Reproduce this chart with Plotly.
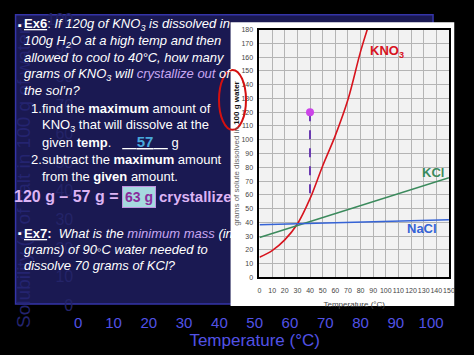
import plotly.graph_objects as go

W, H = 474, 355
FONT = "Liberation Sans, Arial, sans-serif"

# ---- data ----
kno3_t = [0, 10, 20, 30, 40, 50, 60, 70, 80, 86]
kno3_v = [14.7, 19.5, 27.3, 38.8, 57.2, 81, 103, 129, 164, 182]
kcl_t = [0, 50, 100, 150]
kcl_v = [29, 43.5, 58, 72.5]
nacl_t = [0, 50, 100, 150]
nacl_v = [38.3, 39.5, 40.7, 41.9]
point_t = [40]
point_v = [120]
drop_t = [40, 40]
drop_v = [120, 60]
inner_xticks = list(range(0, 151, 10))
inner_yticks = list(range(0, 181, 10))
bg_xticks = list(range(0, 101, 10))
bg_yticks = list(range(0, 101, 10))


def px(x):
    return x / W


def py(y):
    return 1 - y / H


fig = go.Figure()

fig.add_trace(go.Scatter(x=kno3_t, y=kno3_v, mode="lines", line=dict(color="#d7141e", width=1.6, shape="spline"),
                         hoverinfo="skip"))
fig.add_trace(go.Scatter(x=kcl_t, y=kcl_v, mode="lines", line=dict(color="#3b8a5c", width=1.5), hoverinfo="skip"))
fig.add_trace(go.Scatter(x=nacl_t, y=nacl_v, mode="lines", line=dict(color="#3563d6", width=1.6), hoverinfo="skip"))
fig.add_trace(go.Scatter(x=drop_t, y=drop_v, mode="lines", line=dict(color="#6a3ab0", width=2, dash="dash"),
                         hoverinfo="skip"))
fig.add_trace(go.Scatter(x=point_t, y=point_v, mode="markers", marker=dict(color="#cc44e8", size=8),
                         hoverinfo="skip"))
# invisible trace for the background (slide) axes
fig.add_trace(go.Scatter(x=[None], y=[None], xaxis="x2", yaxis="y2", showlegend=False, hoverinfo="skip"))

X0, X1, Y0, Y1 = 265, 461.5, 283, 22.7

fig.update_layout(
    width=W, height=H, margin=dict(l=0, r=0, t=0, b=0),
    paper_bgcolor="#000000", plot_bgcolor="rgba(0,0,0,0)", showlegend=False,
    font=dict(family=FONT),
    xaxis=dict(domain=[px(X0), px(X1)], range=[0, 150], tickvals=inner_xticks, tickangle=0,
               showgrid=True, gridcolor="#b4b4b4", gridwidth=1, zeroline=False,
               showline=True, linecolor="#000000", linewidth=2, mirror=True,
               ticks="", ticklabelstandoff=5,
               tickfont=dict(size=7, color="#444444", family=FONT),
               title=dict(text="Temperature (°C)", font=dict(size=8, color="#444444", family=FONT), standoff=9)),
    yaxis=dict(domain=[py(Y0), py(Y1)], range=[0, 180], tickvals=inner_yticks,
               showgrid=True, gridcolor="#b4b4b4", gridwidth=1, zeroline=False,
               showline=True, linecolor="#000000", linewidth=2, mirror=True,
               ticks="", ticklabelstandoff=3,
               tickfont=dict(size=7, color="#444444", family=FONT),
               title=dict(text="<span style='color:#666666'>grams of solute dissolved in</span> <b>100 g water</b>",
                          font=dict(size=8, color="#111111", family=FONT), standoff=0)),
    xaxis2=dict(domain=[px(77), px(443)], range=[0, 100], tickvals=bg_xticks, anchor="y2",
                showgrid=False, zeroline=False, showline=False, ticks="", ticklabelstandoff=7,
                tickfont=dict(size=15, color="#5252e6", family=FONT),
                title=dict(text="Temperature (°C)", font=dict(size=17, color="#5252e6", family=FONT), standoff=4)),
    yaxis2=dict(domain=[py(312), py(12)], range=[0, 100], tickvals=bg_yticks, anchor="x2",
                showgrid=False, zeroline=False, showline=False, ticks="", ticklabelstandoff=4,
                tickfont=dict(size=16, color="#242468", family=FONT)),
)

shapes = [
    # slide background panel
    dict(type="rect", xref="paper", yref="paper", x0=px(12), x1=px(445), y0=py(311), y1=py(7),
         fillcolor="#1a1952", line=dict(color="#3434a8", width=1.5), layer="below"),
    # white panel behind the chart
    dict(type="rect", xref="paper", yref="paper", x0=px(235), x1=px(467), y0=py(313), y1=py(15),
         fillcolor="#ffffff", line=dict(width=0), layer="below"),
    # chart plotting area background
    dict(type="rect", xref="paper", yref="paper", x0=px(X0), x1=px(X1), y0=py(Y0), y1=py(Y1),
         fillcolor="#f2f2f2", line=dict(width=0), layer="below"),
    # red ellipse
    dict(type="circle", xref="paper", yref="paper", x0=px(223), x1=px(251), y0=py(128), y1=py(65),
         line=dict(color="#d41010", width=2), layer="above"),
]
fig.update_layout(shapes=shapes)

anns = []


def ann(x, y, text, size=13, color="#ffffff", xanchor="left", **kw):
    anns.append(dict(x=px(x), y=py(y), xref="paper", yref="paper", text=text, showarrow=False,
                     xanchor=xanchor, yanchor="middle", font=dict(size=size, color=color, family=FONT), **kw))


LAV = "#c9a8f2"
# faint background chart title
ann(20, 175, "Solubility (g of salt in 100 g of water)", size=19, color="#242470", xanchor="center", textangle=-90)

ann(12, 17.5, "▪", size=11)
ann(19, 17.5, "<b><u>Ex6</u></b>: <i>If 120g of KNO<sub>3</sub> is dissolved in</i>")
ann(19, 35, "<i>100g H<sub>2</sub>O at a high temp and then</i>")
ann(19, 52.5, "<i>allowed to cool to 40°C, how many</i>")
ann(19, 70, f"<i>grams of KNO<sub>3</sub> will <span style='color:{LAV}'>crystallize out</span> of</i>")
ann(19, 87, "<i>the sol’n?</i>")
ann(26, 106, "1.")
ann(37, 106, "find the <b>maximum</b> amount of")
ann(37, 123, "KNO<sub>3</sub> that will dissolve at the")
ann(37, 140, "given <b>temp</b>.\u00a0\u00a0\u00a0<u>\u00a0\u00a0\u00a0\u00a0<span style='color:#48a8dc;font-size:15px'><b>57</b></span>\u00a0\u00a0\u00a0\u00a0</u> g")
ann(26, 159, "2.")
ann(37, 159, "subtract the <b>maximum</b> amount")
ann(37, 177, "from the <b>given</b> amount.")
ann(8, 198, "<b>120 g – 57 g =</b>", size=16, color="#dcb4f4")
ann(140.5, 198, "<b>63 g</b>", size=14, color="#8a2c9c", xanchor="center", bgcolor="#a6d9df",
    bordercolor="#c090e0", borderwidth=1, borderpad=2)
ann(159, 198, "<b>crystallize</b>", size=15, color="#dcb4f4")
ann(12, 236.5, "▪", size=11)
ann(19, 236.5, f"<b><u>Ex7</u>:</b>  <i>What is the <span style='color:{LAV}'>minimum mass</span> (in</i>")
ann(19, 253.5, "<i>grams) of 90◦C water needed to</i>")
ann(19, 270, "<i>dissolve 70 grams of KCl?</i>")

# curve labels in the inner chart (data coordinates)
anns.append(dict(x=101, y=164, xref="x", yref="y", text="<b>KNO<sub>3</sub></b>", showarrow=False,
                 font=dict(size=13, color="#d7141e", family=FONT)))
anns.append(dict(x=137, y=76, xref="x", yref="y", text="<b>KCl</b>", showarrow=False,
                 font=dict(size=13, color="#3b8a5c", family=FONT)))
anns.append(dict(x=129, y=35.3, xref="x", yref="y", text="<b>NaCl</b>", showarrow=False,
                 font=dict(size=13, color="#3563d6", family=FONT)))

fig.update_layout(annotations=anns)
fig.write_html("out.html")
